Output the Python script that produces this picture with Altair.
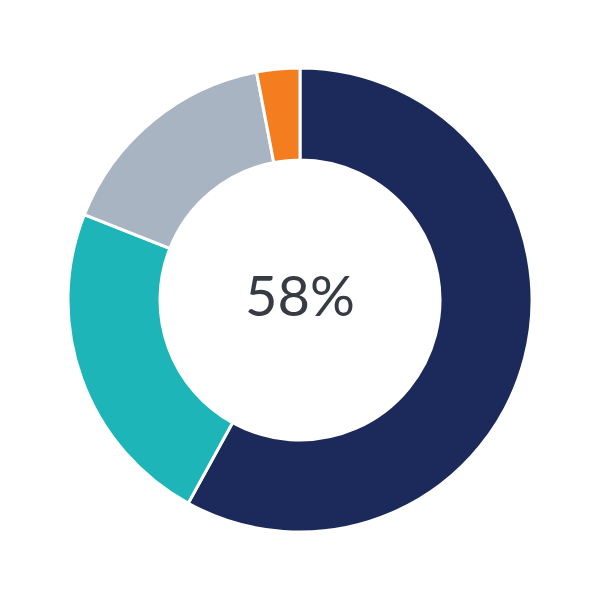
import altair as alt
import pandas as pd

categories = ["A", "B", "C", "D"]
values = [58, 23, 16, 3]
colors = ["#1b2a5a", "#1db5b8", "#a9b4c2", "#f47d20"]
center_label = ["58%"]

df = pd.DataFrame({"cat": categories, "value": values, "order": list(range(len(values)))})

arcs = alt.Chart(df).mark_arc(outerRadius=232, innerRadius=140, stroke="white", strokeWidth=3).encode(
    theta=alt.Theta("value:Q", stack=True),
    color=alt.Color("cat:N", scale=alt.Scale(domain=categories, range=colors), legend=None),
    order=alt.Order("order:Q"),
)

text = alt.Chart(pd.DataFrame({"t": center_label})).mark_text(
    font="Lato", fontSize=56, fontWeight=400, color="#363b44", baseline="middle", align="center"
).encode(text="t:N", x=alt.value(292), y=alt.value(291))

chart = alt.layer(arcs, text).properties(
    width=584, height=584, padding=0, autosize=alt.AutoSizeParams(type="none")
).configure_view(strokeWidth=0)

chart.save("out.html", embed_options={"renderer": "svg", "actions": False})
